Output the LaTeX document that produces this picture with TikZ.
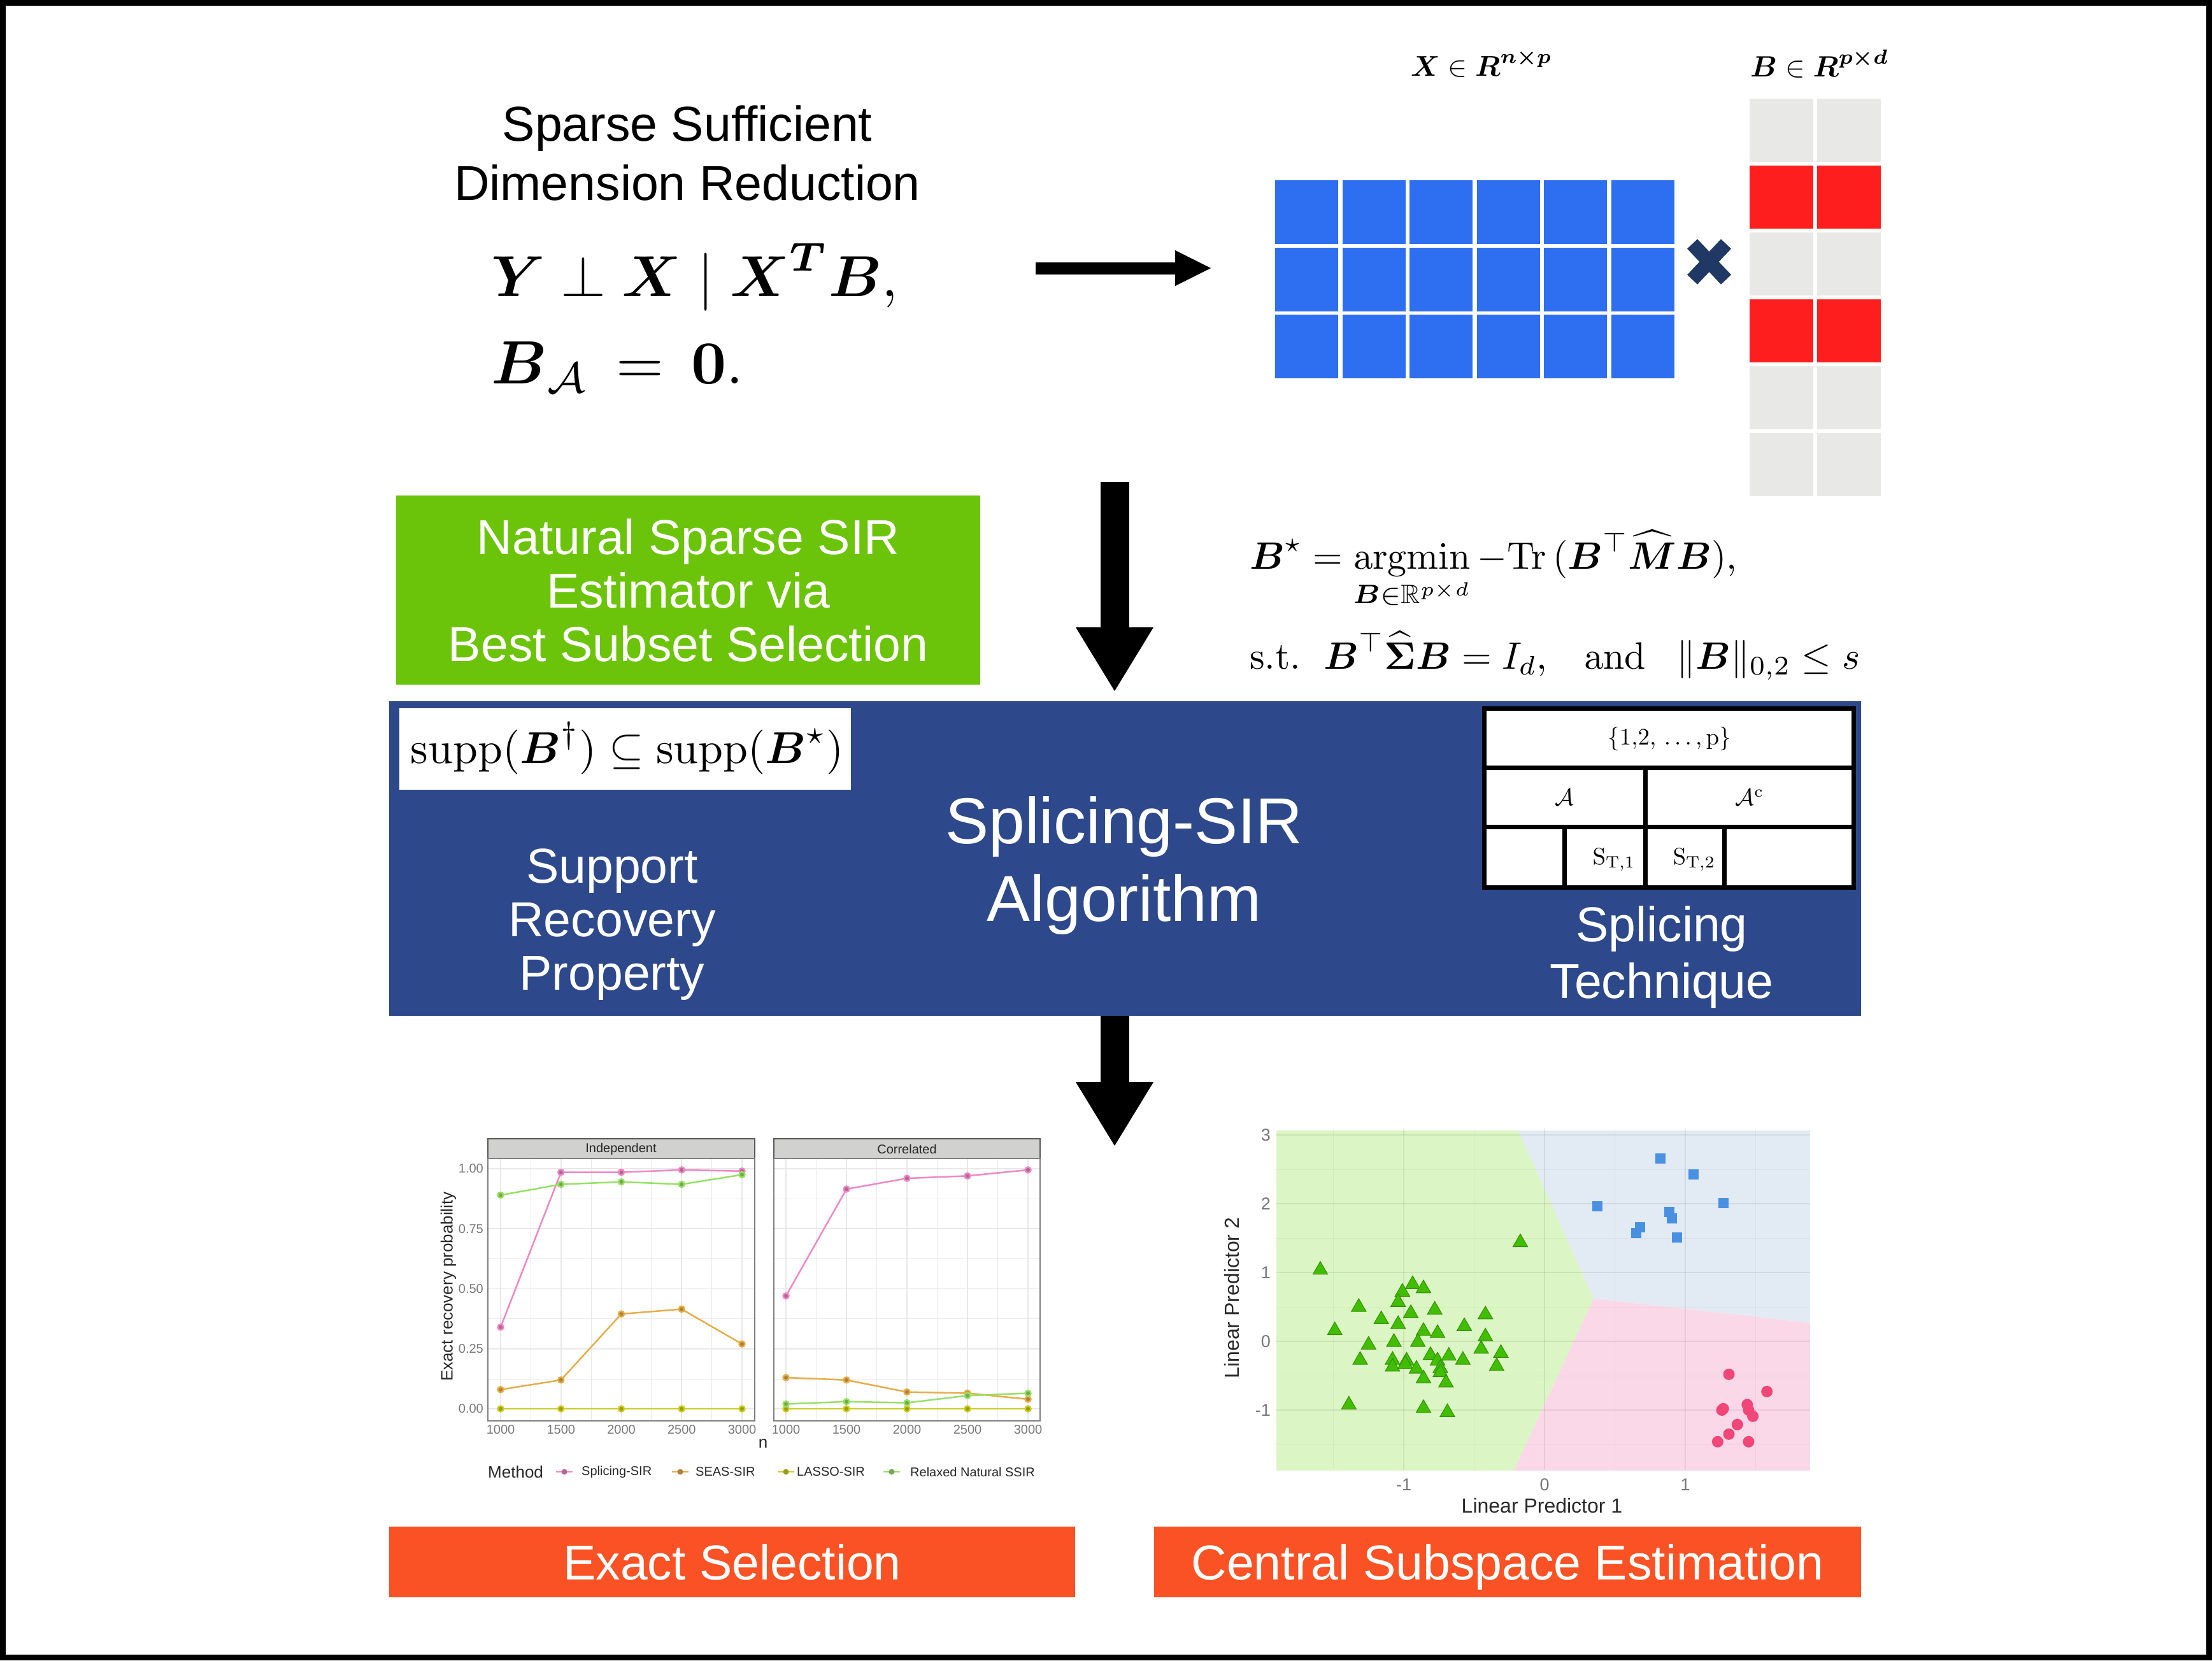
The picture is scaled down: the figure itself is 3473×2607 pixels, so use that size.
\documentclass[tikz,border=0pt]{standalone}
\usepackage{amsmath,amssymb}
\usepackage[no-math]{fontspec}
\setmainfont{Liberation Sans}
\usepackage{graphicx}
\usetikzlibrary{arrows.meta}
\definecolor{bandblue}{RGB}{45,73,140}
\definecolor{xblue}{RGB}{46,110,240}
\definecolor{bred}{RGB}{255,30,30}
\definecolor{bgray}{RGB}{232,232,230}
\definecolor{navyx}{RGB}{31,56,100}
\definecolor{grnbox}{RGB}{108,196,10}
\definecolor{orngbox}{RGB}{250,82,36}
\definecolor{cpink}{RGB}{240,135,195}
\definecolor{corange}{RGB}{232,172,70}
\definecolor{colive}{RGB}{205,205,30}
\definecolor{clight}{RGB}{150,225,100}
\definecolor{rgreen}{RGB}{220,245,196}
\definecolor{rblue}{RGB}{226,235,243}
\definecolor{rpink}{RGB}{251,216,232}
\definecolor{ptri}{RGB}{65,190,0}
\definecolor{psq}{RGB}{74,144,226}
\definecolor{pcirc}{RGB}{240,70,120}
\definecolor{gridc}{RGB}{232,232,232}
\definecolor{tickc}{RGB}{120,120,120}
\definecolor{labc}{RGB}{40,40,40}
\begin{document}
\begin{tikzpicture}[x=1pt,y=-1pt,
  wtext/.style={text=white,align=center,font=\fontsize{77}{84}\selectfont},
  ttext/.style={text=black,align=center,font=\fontsize{77}{93}\selectfont,inner sep=0pt},
  bigarrow/.style={line width=45pt,-{Triangle[length=100pt,width=122pt,line width=0pt]}},
  smallarrow/.style={line width=19pt,-{Triangle[length=56pt,width=56pt,line width=0pt]}},
  tabline/.style={line width=7pt,black},
  ticklab/.style={text=tickc,font=\fontsize{20}{22}\selectfont,inner sep=0pt},
  stick/.style={text=tickc,font=\fontsize{27}{30}\selectfont,inner sep=0pt},
  ser/.style={draw=#1,line width=2.5pt,mark size=4.5pt,mark options={fill=#1!75!black,draw=none}},
  striplab/.style={text=labc,font=\fontsize{20}{22}\selectfont,inner sep=0pt},
  leglab/.style={text=labc,font=\fontsize{20}{22}\selectfont,anchor=west,inner sep=0pt},
  mgrid/.style={black,opacity=0.07,line width=2pt},
  ngrid/.style={black,opacity=0.04,line width=1pt},
  mathnode/.style={inner sep=0pt,outer sep=0pt},
  obox/.style={wtext,fill=orngbox,minimum height=111pt,inner sep=0pt,text height=56pt,text depth=0pt}
]
\useasboundingbox (0,0) rectangle (3473,2607);
\fill[black] (0,0) rectangle (3473,2607);
\fill[white] (9,9) rectangle (3464,2598);

% ---------- title and model ----------
\node[ttext] (title) at (1079,240) {Sparse Sufficient\\Dimension Reduction};
\node[mathnode,anchor=base west] (eqA) at (771,465) {\scalebox{9.1}{$\boldsymbol{Y}\perp\boldsymbol{X}\mid\boldsymbol{X}^{\boldsymbol{T}}\boldsymbol{B},$}};
\node[mathnode,anchor=base west] (eqB) at (771,602) {\scalebox{9.6}{$\boldsymbol{B}_{\mathcal{A}}\mkern3mu=\mkern3mu\mathbf{0}.$}};

\coordinate (r1) at (1626,421);
\coordinate (r2) at (1901,421);
\draw[smallarrow] (r1) -- (r2);

% ---------- matrices ----------
\foreach \i in {0,...,5} \foreach \j in {0,1,2}
  \fill[xblue] ({2002+105.6*\i},{283+105.5*\j}) rectangle ++(99,100);
\draw[navyx,line width=22pt] (2657,383) -- (2710,439);
\draw[navyx,line width=22pt] (2657,439) -- (2710,383);
\foreach \j/\c in {0/bgray,1/bred,2/bgray,3/bred,4/bgray,5/bgray} \foreach \i in {0,1}
  \fill[\c] ({2747+106*\i},{155+105*\j}) rectangle ++(100,99);
\node[mathnode] (xlab) at (2326,100) {\scalebox{4.5}{$\boldsymbol{X}\in\boldsymbol{R}^{\boldsymbol{n\times p}}$}};
\node[mathnode] (blab) at (2857,100) {\scalebox{4.6}{$\boldsymbol{B}\in\boldsymbol{R}^{\boldsymbol{p\times d}}$}};

% ---------- estimator ----------
\node[wtext,fill=grnbox,minimum width=917pt,minimum height=297pt,inner sep=0pt] (nsir) at (1080.5,926.5) {Natural Sparse SIR\\Estimator via\\Best Subset Selection};
\coordinate (d1) at (1750,757);
\coordinate (d2) at (1750,1085);
\draw[bigarrow] (d1) -- (d2);
\node[mathnode,anchor=base west] (opt1) at (1962,893) {\scalebox{6.0}{$\displaystyle\boldsymbol{B}^{\star}=\operatorname*{argmin}_{\boldsymbol{B}\in\mathbb{R}^{p\times d}}-\mathrm{Tr}\,(\boldsymbol{B}^{\top}\widehat{\boldsymbol{M}}\boldsymbol{B}),$}};
\node[mathnode,anchor=base west] (opt2) at (1962,1050) {\scalebox{6.0}{$\mathrm{s.t.}\hspace{6pt}\boldsymbol{B}^{\top}\widehat{\boldsymbol{\Sigma}}\boldsymbol{B}=I_d,\hspace{8pt}\mathrm{and}\hspace{8pt}\|\boldsymbol{B}\|_{0,2}\le s$}};

% ---------- algorithm band ----------
\node[fill=bandblue,minimum width=2311pt,minimum height=494pt,inner sep=0pt] (band) at (1766.5,1348) {};
\fill[white] (627,1112) rectangle (1336,1240);
\node[mathnode] (supp) at (985,1175) {\scalebox{7.0}{$\mathrm{supp}(\boldsymbol{B}^{\dagger})\subseteq\mathrm{supp}(\boldsymbol{B}^{\star})$}};
\node[wtext] (srp) at (961,1452) {Support\\Recovery\\Property};
\node[wtext,font=\fontsize{102}{122}\selectfont] (alg) at (1765,1359) {Splicing-SIR\\Algorithm};
\node[wtext,font=\fontsize{77}{89}\selectfont] (spt) at (2609,1503) {Splicing\\Technique};

\fill[white] (2330,1112) rectangle (2910,1393);
\draw[tabline] (2330,1112) rectangle (2910,1393);
\draw[tabline] (2330,1205) -- (2910,1205);
\draw[tabline] (2330,1298) -- (2910,1298);
\draw[tabline] (2583,1205) -- (2583,1393);
\draw[tabline] (2456,1298) -- (2456,1393);
\draw[tabline] (2707,1298) -- (2707,1393);
\node[mathnode] (tall) at (2621,1160) {\scalebox{3.7}{$\{1{,}2,\,\ldots,\mathrm{p}\}$}};
\node[mathnode] (tA) at (2456,1252) {\scalebox{3.7}{$\mathcal{A}$}};
\node[mathnode] (tAc) at (2747,1252) {\scalebox{3.7}{$\mathcal{A}^{\mathrm{c}}$}};
\node[mathnode] (tS1) at (2534,1350) {\scalebox{3.7}{$\mathrm{S}_{\mathrm{T},1}$}};
\node[mathnode] (tS2) at (2660,1350) {\scalebox{3.7}{$\mathrm{S}_{\mathrm{T},2}$}};

\coordinate (d3) at (1750,1595);
\coordinate (d4) at (1750,1799);
\draw[bigarrow] (d3) -- (d4);

% ---------- left plot ----------
\fill[bgray!90!black] (766,1788) rectangle (1185,1819);
\draw[black!65,line width=1.5pt] (766,1788) rectangle (1185,1819);
\fill[bgray!90!black] (1215,1788) rectangle (1633,1819);
\draw[black!65,line width=1.5pt] (1215,1788) rectangle (1633,1819);
\node[striplab] (strip1) at (975,1804) {Independent};
\node[striplab] (strip2) at (1424,1804) {Correlated};

\begin{scope}[shift={(596.5,2212)},x=0.1895pt,y=377pt]
  \foreach \v in {0.125,0.375,0.625,0.875} \draw[gridc,line width=0.8pt] (894,\v) -- (3105,\v);
  \foreach \n in {1250,1750,2250,2750} \draw[gridc,line width=0.8pt] (\n,-0.05) -- (\n,1.042);
  \foreach \v in {0,0.25,0.5,0.75,1} \draw[gridc,line width=1.6pt] (894,\v) -- (3105,\v);
  \foreach \n in {1000,1500,2000,2500,3000} \draw[gridc,line width=1.6pt] (\n,-0.05) -- (\n,1.042);
  \draw[ser=cpink] plot[mark=*] coordinates {(1000,0.34) (1500,0.985) (2000,0.985) (2500,0.995) (3000,0.99)};
  \draw[ser=corange] plot[mark=*] coordinates {(1000,0.08) (1500,0.12) (2000,0.395) (2500,0.415) (3000,0.27)};
  \draw[ser=colive] plot[mark=*] coordinates {(1000,0) (1500,0) (2000,0) (2500,0) (3000,0)};
  \draw[ser=clight] plot[mark=*] coordinates {(1000,0.89) (1500,0.935) (2000,0.945) (2500,0.935) (3000,0.975)};
\end{scope}
\begin{scope}[shift={(1044,2212)},x=0.19pt,y=377pt]
  \foreach \v in {0.125,0.375,0.625,0.875} \draw[gridc,line width=0.8pt] (900,\v) -- (3100,\v);
  \foreach \n in {1250,1750,2250,2750} \draw[gridc,line width=0.8pt] (\n,-0.05) -- (\n,1.042);
  \foreach \v in {0,0.25,0.5,0.75,1} \draw[gridc,line width=1.6pt] (900,\v) -- (3100,\v);
  \foreach \n in {1000,1500,2000,2500,3000} \draw[gridc,line width=1.6pt] (\n,-0.05) -- (\n,1.042);
  \draw[ser=cpink] plot[mark=*] coordinates {(1000,0.47) (1500,0.915) (2000,0.96) (2500,0.97) (3000,0.995)};
  \draw[ser=corange] plot[mark=*] coordinates {(1000,0.13) (1500,0.12) (2000,0.07) (2500,0.065) (3000,0.04)};
  \draw[ser=colive] plot[mark=*] coordinates {(1000,0) (1500,0) (2000,0) (2500,0) (3000,0)};
  \draw[ser=clight] plot[mark=*] coordinates {(1000,0.02) (1500,0.03) (2000,0.025) (2500,0.055) (3000,0.065)};
\end{scope}
\draw[black!50,line width=1.5pt] (766,1819) rectangle (1185,2231);
\draw[black!50,line width=1.5pt] (1215,1819) rectangle (1633,2231);

\foreach \v/\t in {0/0.00,0.25/0.25,0.5/0.50,0.75/0.75,1/1.00}
  \node[ticklab,anchor=east] at (759,{2212-377*\v}) {\t};
\foreach \n in {1000,1500,2000,2500,3000} {
  \node[ticklab] at ({786+(\n-1000)*0.1895},2245) {\n};
  \node[ticklab] at ({1234+(\n-1000)*0.19},2245) {\n};
}
\node[text=labc,font=\fontsize{26}{28}\selectfont,rotate=90] (ylab) at (704,2020) {Exact recovery probability};
\node[text=labc,font=\fontsize{26}{28}\selectfont] (nlab) at (1198,2266) {n};

\node[text=labc,font=\fontsize{26}{28}\selectfont,anchor=west,inner sep=0pt] (meth) at (766,2311) {Method};
\foreach \xk/\c in {886/cpink,1068/corange,1234/colive,1400/clight} {
  \draw[\c,line width=2.5pt] ({\xk-13},2311) -- ({\xk+13},2311);
  \fill[\c!75!black] (\xk,2311) circle[radius=4.5pt];
}
\node[leglab] (lg1) at (913,2311) {Splicing-SIR};
\node[leglab] (lg2) at (1092,2311) {SEAS-SIR};
\node[leglab] (lg3) at (1251,2311) {LASSO-SIR};
\node[leglab] (lg4) at (1429,2311) {Relaxed Natural SSIR};

% ---------- scatter plot ----------
\fill[rgreen] (2004,1775) -- (2384,1775) -- (2502,2039) -- (2377,2309) -- (2004,2309) -- cycle;
\fill[rblue] (2384,1775) -- (2842,1775) -- (2842,2077) -- (2502,2039) -- cycle;
\fill[rpink] (2502,2039) -- (2842,2077) -- (2842,2309) -- (2377,2309) -- cycle;
\begin{scope}[shift={(2425,2106)},x=221pt,y=108pt]
  \foreach \u in {-1.5,-0.5,0.5,1.5} \draw[ngrid] (\u,-1.87) -- (\u,3.09);
  \foreach \v in {-1.5,-0.5,0.5,1.5,2.5} \draw[ngrid] (-1.905,\v) -- (1.887,\v);
  \foreach \u in {-1,0,1} \draw[mgrid] (\u,-1.87) -- (\u,3.09);
  \foreach \v in {-1,0,1,2,3} \draw[mgrid] (-1.905,\v) -- (1.887,\v);
  \foreach \a/\b in {0.376/1.96,0.823/2.66,1.06/2.43,1.27/2.01,0.887/1.88,0.905/1.79,0.68/1.66,0.65/1.57,0.94/1.51}
    \fill[psq] (\a,\b) ++(-8pt,-8pt) rectangle ++(16pt,16pt);
  \foreach \a/\b in {1.31/-0.48,1.58/-0.73,1.27/-0.98,1.26/-1.0,1.44/-0.92,1.45/-1.0,1.48/-1.09,1.37/-1.21,1.31/-1.35,1.23/-1.46,1.45/-1.46}
    \fill[pcirc] (\a,\b) circle[radius=9pt];
  \foreach \a/\b in {-0.172/1.44,-1.593/1.04,-0.937/0.83,-0.86/0.77,-1.01/0.72,-1.04/0.57,-1.32/0.50,-0.95/0.41,-0.78/0.46,-0.42/0.39,-1.16/0.32,-1.04/0.25,-1.49/0.16,-0.57/0.22,-0.86/0.15,-0.76/0.12,-0.42/0.07,-1.07/-0.01,-0.90/-0.01,-1.25/-0.05,-0.45/-0.11,-0.31/-0.17,-0.81/-0.20,-0.68/-0.21,-0.58/-0.27,-1.31/-0.27,-1.08/-0.27,-0.98/-0.28,-0.76/-0.28,-1.08/-0.37,-0.99/-0.33,-0.91/-0.40,-0.74/-0.39,-0.34/-0.36,-0.74/-0.45,-0.86/-0.54,-0.70/-0.60,-1.39/-0.92,-0.86/-0.97,-0.69/-1.03}
    \filldraw[fill=ptri,draw=ptri!75!black,line width=1pt] (\a,\b) ++(0pt,13pt) -- ++(-11.5pt,-20pt) -- ++(23pt,0pt) -- cycle;
\end{scope}
\foreach \v/\t in {3/3,2/2,1/1,0/0,-1/-1}
  \node[stick,anchor=east] at (1995,{2106-108*\v}) {\t};
\foreach \u/\t in {-1/-1,0/0,1/1}
  \node[stick] at ({2425+221*\u},2331) {\t};
\node[text=labc,font=\fontsize{32}{34}\selectfont,rotate=90] (lp2) at (1934,2038) {Linear Predictor 2};
\node[text=labc,font=\fontsize{32}{34}\selectfont] (lp1) at (2421,2364) {Linear Predictor 1};

% ---------- outcome boxes ----------
\node[obox,minimum width=1077pt] (exsel) at (1149.5,2452.5) {Exact Selection};
\node[obox,minimum width=1110pt] (cse) at (2367,2452.5) {Central Subspace Estimation};
\end{tikzpicture}
\end{document}
